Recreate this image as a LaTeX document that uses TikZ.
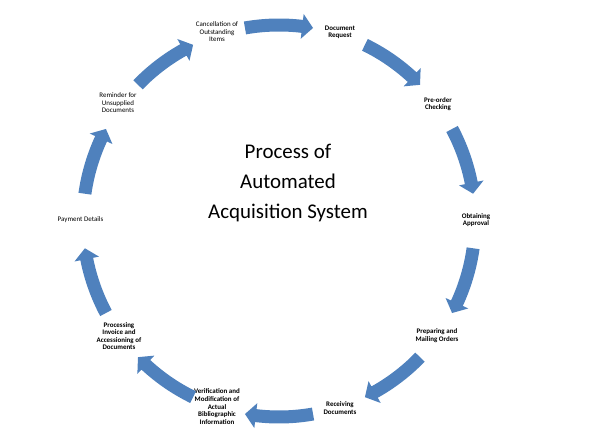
\documentclass[tikz,border=0pt]{standalone}
\usepackage{fontspec}
\setmainfont{Carlito}
\usetikzlibrary{calc}
\definecolor{cycblue}{HTML}{4F81BD}
\tikzset{
  lbl/.style={font=\fontsize{7}{7.6}\selectfont, align=center, inner sep=0pt},
  blbl/.style={lbl, font=\fontsize{7}{7.6}\selectfont\bfseries},
  ttl/.style={font=\fontsize{21}{30}\selectfont, align=center, inner sep=0pt},
  arrowfill/.style={fill=cycblue}
}
\newcommand{\cycarrow}[1]{%
  \pgfmathsetmacro\ta{#1+10}%
  \pgfmathsetmacro\tb{#1-6.8}%
  \pgfmathsetmacro\tc{#1-10}%
  \fill[arrowfill] ($(C)+(\ta:202.5)$) arc[start angle=\ta,end angle=\tb,radius=202.5]
    -- ($(C)+(\tb:208.5)$) -- ($(C)+(\tc:196)$) -- ($(C)+(\tb:183.5)$)
    -- ($(C)+(\tb:189.5)$) arc[start angle=\tb,end angle=\ta,radius=189.5] -- cycle;}
\begin{document}
\begin{tikzpicture}[x=1bp,y=1bp]
\useasboundingbox (0,0) rectangle (589,439);
\coordinate (C) at (279,218);
% labels
\node[lbl]  (cancel)  at (217,407.3) {Cancellation of\\Outstanding\\Items};
\node[blbl] (docreq)  at (340,406.5) {Document\\Request};
\node[blbl] (preord)  at (438,335)   {Pre-order\\Checking};
\node[blbl] (approv)  at (476,219)   {Obtaining\\Approval};
\node[blbl] (mailing) at (437,103.5) {Preparing and\\Mailing Orders};
\node[blbl] (receive) at (340,31)    {Receiving\\Documents};
\node[blbl] (verify)  at (217,32.3)  {Verification and\\Modification of\\Actual\\Bibliographic\\Information};
\node[blbl] (process) at (119,103)   {Processing\\Invoice and\\Accessioning of\\Documents};
\node[lbl]  (payment) at (80.5,219)  {Payment Details};
\node[lbl]  (remind)  at (118,336)   {Reminder for\\Unsupplied\\Documents};
\node[ttl]  (title)   at (288,256)   {Process of\\Automated\\Acquisition System};
% cycle arrows
\foreach \a in {90,54,18,-18,-54,-90,-126,-162,162,126} {\cycarrow{\a}}
\end{tikzpicture}
\end{document}
